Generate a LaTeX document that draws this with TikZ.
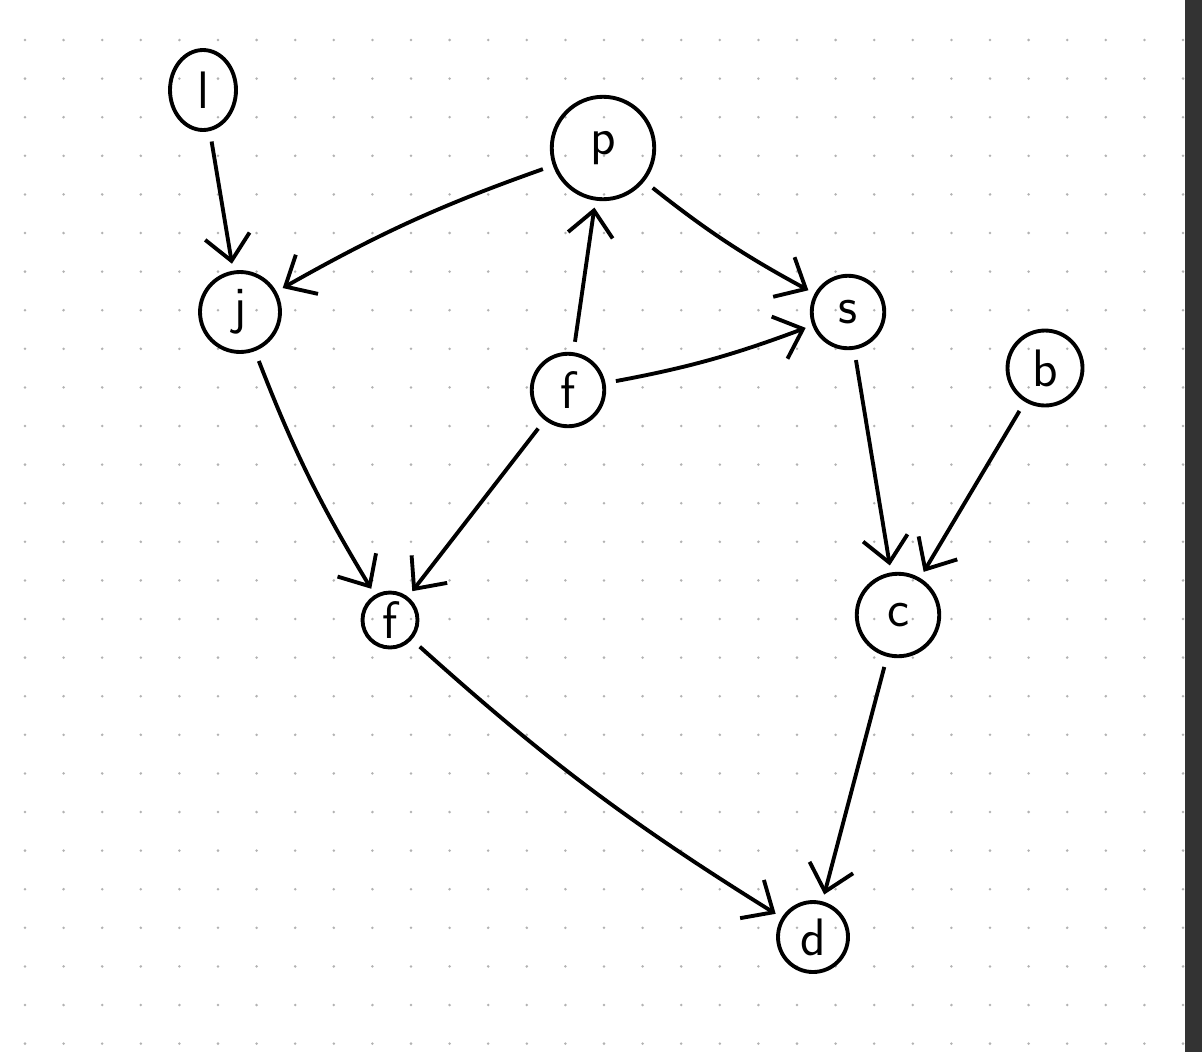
\documentclass[tikz,border=0pt]{standalone}
\usetikzlibrary{arrows.meta,shapes.geometric}
\begin{document}
\begin{tikzpicture}[x=0.02cm,y=-0.02cm,
  nd/.style={draw,circle,line width=2.2pt,inner sep=0pt,font=\sffamily\fontsize{30}{30}\selectfont},
  ed/.style={line width=2.2pt,-{Straight Barb[length=5mm,width=9mm,line width=2.2pt]},shorten >=4pt,shorten <=6pt}]
\fill[white] (0,0) rectangle (1202,1052);
\useasboundingbox (0,0) rectangle (1202,1052);
\foreach \i in {0,...,30}{\foreach \k in {0,...,26}{
  \fill[gray!60] (25+38.6*\i,40+38.6*\k) circle (1.4);}}
\fill[black!80] (1185,0) rectangle (1202,1052);
\node[nd,ellipse,minimum width=1.32cm,minimum height=1.6cm] (l) at (203,90) {l};
\node[nd,minimum size=2.05cm] (p) at (603,148) {p};
\node[nd,minimum size=1.6cm] (j) at (240,312) {j};
\node[nd,minimum size=1.45cm] (s) at (848,312) {s};
\node[nd,minimum size=1.45cm] (f1) at (568,390) {f};
\node[nd,minimum size=1.5cm] (b) at (1045,368) {b};
\node[nd,minimum size=1.1cm] (f2) at (390,620) {f};
\node[nd,minimum size=1.65cm] (c) at (898,615) {c};
\node[nd,minimum size=1.4cm] (d) at (813,937) {d};
\draw[ed] (l) -- (j);
\draw[ed] (p) to[bend left=-5] (j);
\draw[ed] (p) to[bend left=-5] (s);
\draw[ed] (f1) -- (p);
\draw[ed] (f1) to[bend left=-5] (s);
\draw[ed] (f1) -- (f2);
\draw[ed] (j) to[bend left=-5] (f2);
\draw[ed] (s) -- (c);
\draw[ed] (b) -- (c);
\draw[ed] (f2) to[bend left=-5] (d);
\draw[ed] (c) -- (d);
\end{tikzpicture}
\end{document}
